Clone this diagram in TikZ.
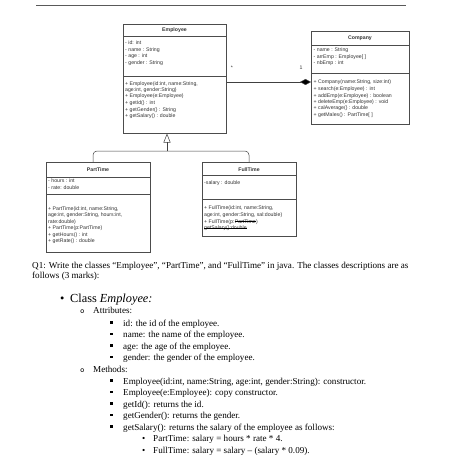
\documentclass[tikz,border=0pt]{standalone}
\usepackage{fontspec}
\setmainfont{Liberation Serif}
\setsansfont{Liberation Sans}
\usetikzlibrary{arrows.meta,calc}
\begin{document}
\begin{tikzpicture}[x=1pt,y=-1pt,
  cls/.style={draw=black!70,line width=0.5pt,anchor=north west,inner sep=0pt},
  sep/.style={draw=black!70,line width=0.4pt},
  ut/.style={font=\sffamily\fontsize{5.2}{6}\selectfont,anchor=base west,inner sep=0pt,text=black!80},
  tt/.style={font=\sffamily\bfseries\fontsize{5.2}{6}\selectfont,anchor=base,inner sep=0pt,text=black!80},
  bt/.style={font=\fontsize{9.1}{11}\selectfont,anchor=base west,inner sep=0pt},
  big/.style={font=\fontsize{12.3}{14}\selectfont,anchor=base west,inner sep=0pt},
  conn/.style={draw=black!75,line width=0.5pt},
  strike/.style={draw=black,line width=0.8pt}]
\useasboundingbox (0,0) rectangle (474,460);
\draw[line width=0.9pt,black!65] (36,5) -- (406,5);

% Employee
\node[cls,minimum width=103pt,minimum height=109pt] (emp) at (123,24) {};
\draw[sep] (123,36) -- (226,36);
\draw[sep] (123,76) -- (226,76);
\node[tt] (empT) at (174.5,32) {Employee};
\node[ut] (ea1) at (125,45) {- id: int};
\node[ut] (ea2) at (125,51.5) {- name : String};
\node[ut] (ea3) at (125,58) {- age : int};
\node[ut] (ea4) at (125,64.5) {- gender : String};
\node[ut] (em1) at (125,85) {+ Employee(id:int, name:String,};
\node[ut] (em2) at (125,91.5) {age:int, gender:String)};
\node[ut] (em3) at (125,98) {+ Employee(e:Employee)};
\node[ut] (em4) at (125,104.5) {+ getId() : int};
\node[ut] (em5) at (125,111) {+ getGender() : String};
\node[ut] (em6) at (125,117.5) {+ getSalary() : double};

% Company
\node[cls,minimum width=98pt,minimum height=93pt] (cmp) at (311,31) {};
\draw[sep] (311,45) -- (409,45);
\draw[sep] (311,73) -- (409,73);
\node[tt] (cmpT) at (360,40) {Company};
\node[ut] (ca1) at (313.5,52) {- name : String};
\node[ut] (ca2) at (313.5,58.5) {- arrEmp : Employee[ ]};
\node[ut] (ca3) at (313.5,65) {- nbEmp : int};
\node[ut] (cm1) at (313.5,84) {+ Company(name:String, size:int)};
\node[ut] (cm2) at (313.5,90.5) {+ search(e:Employee) : int};
\node[ut] (cm3) at (313.5,97) {+ addEmp(e:Employee) : boolean};
\node[ut] (cm4) at (313.5,103.5) {+ deleteEmp(e:Employee) : void};
\node[ut] (cm5) at (313.5,110) {+ calAverage() : double};
\node[ut] (cm6) at (313.5,116.5) {+ getMales() : PartTime[ ]};

% PartTime
\node[cls,minimum width=104pt,minimum height=90pt] (pt) at (46,162) {};
\draw[sep] (46,177) -- (150,177);
\draw[sep] (46,194) -- (150,194);
\node[tt] (ptT) at (98,171) {PartTime};
\node[ut] (pa1) at (48,182) {- hours : int};
\node[ut] (pa2) at (48,189) {- rate: double};
\node[ut] (pm1) at (48,210) {+ PartTime(id:int, name:String,};
\node[ut] (pm2) at (48,216.5) {age:int, gender:String, hours:int,};
\node[ut] (pm3) at (48,223) {rate:double)};
\node[ut] (pm4) at (48,229.5) {+ PartTime(p:PartTime)};
\node[ut] (pm5) at (48,236) {+ getHours() : int};
\node[ut] (pm6) at (48,242.5) {+ getRate() : double};

% FullTime
\node[cls,minimum width=94pt,minimum height=74pt] (ft) at (202,162) {};
\draw[sep] (202,175) -- (296,175);
\draw[sep] (202,199) -- (296,199);
\node[tt] (ftT) at (249,171) {FullTime};
\node[ut] (fa1) at (204,184) {-salary : double};
\node[ut] (fm1) at (204,209) {+ FullTime(id:int, name:String,};
\node[ut] (fm2) at (204,216) {age:int, gender:String, sal:double)};
\node[ut] (fm3) at (204,223) {+ FullTime(p:};
\node[ut,anchor=base west] (fm3b) at (fm3.base east) {PartTime};
\node[ut,anchor=base west] (fm3c) at (fm3b.base east) {)};
\node[ut] (fm4) at (204,229.5) {getSalary():double};
\draw[strike] ($(fm3b.base west)+(0,-1.6)$) -- ($(fm3b.base east)+(0,-1.6)$);
\draw[strike] ($(fm4.base west)+(0,-1.6)$) -- ($(fm4.base east)+(0,-1.6)$);

% composition
\draw[conn,-{Diamond[fill=black,length=11pt,width=6pt]}] ($(emp.north east)+(0,58)$) -- ($(cmp.north west)+(0,51)$);
\node[ut,anchor=base] (star) at (232,70) {*};
\node[ut,anchor=base] (one) at (301,70) {1};

% inheritance
\coordinate (jn) at (167,151);
\draw[conn,rounded corners=4pt] (pt.north -| 93,0) -- (93,151) -- (249,151) -- (ft.north -| 249,0);
\draw[conn,-{Triangle[open,length=9pt,width=7pt]}] (jn) -- (emp.south -| jn);

% text
\node[bt] (q1) at (32,268) {Q1: Write the classes ``Employee'', ``PartTime'', and ``FullTime'' in java. The classes descriptions are as};
\node[bt] (q2) at (32,278) {follows (3 marks):};
\node[big] (b0) at (60,302) {•};
\node[big] (cl) at (70,302) {Class \textit{Employee:}};
\node[bt,font=\fontsize{8.5}{10}\ttfamily] (o1) at (80,313) {o};
\node[bt] (attr) at (93,313) {Attributes:};
\node[bt,font=\fontsize{8.5}{10}\ttfamily] (o2) at (80,372) {o};
\node[bt] (meth) at (93,372) {Methods:};
\foreach \y/\t [count=\i] in {326/{id: the id of the employee.},
  337.5/{name: the name of the employee.},
  349/{age: the age of the employee.},
  360.5/{gender: the gender of the employee.},
  384/{Employee(id:int, name:String, age:int, gender:String): constructor.},
  395.5/{Employee(e:Employee): copy constructor.},
  407/{getId(): returns the id.},
  418.5/{getGender(): returns the gender.},
  430/{getSalary(): returns the salary of the employee as follows:}}{
  \fill (110,\y-5) rectangle (112.8,\y-2.2);
  \node[bt] (s\i) at (123,\y) {\t};
}
\node[bt] (d1) at (142,441.5) {•};
\node[bt] (p1) at (153,441.5) {PartTime: salary = hours * rate * 4.};
\node[bt] (d2) at (142,453) {•};
\node[bt] (p2) at (153,453) {FullTime: salary = salary – (salary * 0.09).};
\end{tikzpicture}
\end{document}
